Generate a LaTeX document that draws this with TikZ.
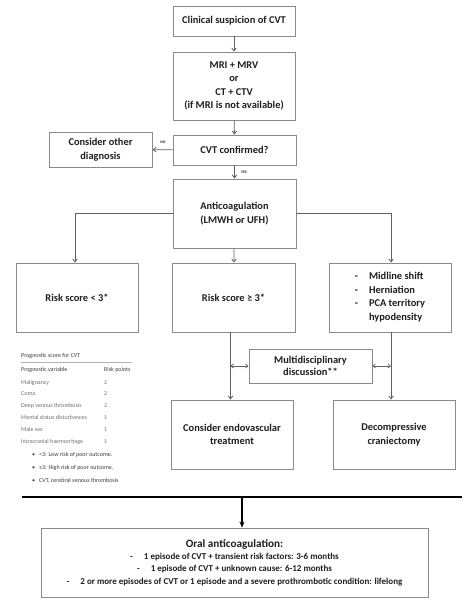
\documentclass[tikz,border=0pt]{standalone}
\usepackage{fontspec}
\setmainfont{Carlito}
\usetikzlibrary{arrows.meta}
\definecolor{boxgray}{HTML}{8A8A8A}
\definecolor{linegray}{HTML}{606060}
\definecolor{txt}{HTML}{1E1E1E}
\definecolor{tabtxt}{HTML}{707070}
\definecolor{tabhead}{HTML}{3A3A3A}
\begin{document}
\begin{tikzpicture}[x=1pt,y=-1pt,
  box/.style={draw=boxgray, line width=0.9pt, align=center, text=txt, inner sep=2pt,
    font=\bfseries\fontsize{10.4}{13.5}\selectfont, minimum width=122pt, minimum height=69pt},
  conn/.style={draw=linegray, line width=0.8pt, -{Straight Barb[length=3pt,width=4.5pt,line width=0.8pt]}},
  both/.style={draw=linegray, line width=0.7pt, {Straight Barb[length=2.5pt,width=4pt]}-{Straight Barb[length=2.5pt,width=4pt]}},
  lab/.style={font=\bfseries\fontsize{3.8}{4}\selectfont, text=txt, inner sep=0pt},
  tab/.style={font=\fontsize{6}{7}\selectfont, text=tabtxt, anchor=base west, inner sep=0pt},
  tabh/.style={tab, text=tabhead}]
\useasboundingbox (0,0) rectangle (474,605);
\fill[white] (0,0) rectangle (474,605);

\node[box, minimum height=30pt] (clin) at (234,21) {Clinical suspicion of CVT};
\node[box, minimum height=68pt] (mri) at (234,86) {MRI + MRV\\or\\CT + CTV\\(if MRI is not available)};
\node[box, minimum width=123pt, minimum height=30pt] (conf) at (234.5,150) {CVT confirmed?};
\node[box, minimum width=103pt, minimum height=35pt] (other) at (100.5,149.5) {Consider other\\diagnosis};
\node[box, minimum width=123pt] (anti) at (234.5,213.5) {Anticoagulation\\(LMWH or UFH)};
\node[box] (r1) at (77,297.5) {Risk score < 3*};
\node[box, minimum width=123pt] (r2) at (233.5,297.5) {Risk score ≥ 3*};
\node[box, align=left] (r3) at (390,297.5) {\begin{tabular}{@{}l@{\hspace{11pt}}l@{}}-&Midline shift\\-&Herniation\\-&PCA territory\\&hypodensity\end{tabular}};
\node[box, minimum width=123pt, minimum height=34pt, font=\bfseries\fontsize{10.4}{12.5}\selectfont] (multi) at (310.5,366) {Multidisciplinary\\discussion**};
\node[box] (endo) at (232,434.5) {Consider endovascular\\treatment};
\node[box] (dec) at (394,434.5) {Decompressive\\craniectomy};
\node[box, minimum width=387pt, font=\bfseries\fontsize{9}{12.3}\selectfont] (oral) at (234.5,562.5)
  {{\fontsize{11.2}{12}\selectfont Oral anticoagulation:}\\
   -\hspace{11pt}1 episode of CVT + transient risk factors: 3-6 months\\
   -\hspace{11pt}1 episode of CVT + unknown cause: 6-12 months\\
   -\hspace{11pt}2 or more episodes of CVT or 1 episode and a severe prothrombotic condition: lifelong};

% connectors
\draw[conn] (clin) -- (mri);
\draw[conn] (mri) -- (conf);
\draw[conn] (conf) -- (other);
\node[lab] (no) at (163,142) {NO};
\draw[conn] (conf) -- (anti);
\node[lab] (yes) at (244,172) {YES};
\coordinate (lx) at (75,0);
\coordinate (rx) at (391,0);
\coordinate (mx) at (230.5,0);
\draw[conn] (anti.west) -| (lx |- r1.north);
\draw[conn] (anti.east) -| (rx |- r3.north);
\draw[conn] (anti) -- (r2);
\draw[conn] (mx |- r2.south) -- (mx |- endo.north);
\draw[conn] (rx |- r3.south) -- (rx |- dec.north);
\draw[both] (mx |- multi.west) -- (multi.west);
\draw[both] (multi.east) -- (rx |- multi.east);

% bottom bar
\coordinate (bl) at (22,497);
\coordinate (br) at (462,497);
\coordinate (bm) at (242,497);
\draw[black, line width=1.3pt] (bl) -- (br);
\draw[black, line width=1.3pt, -{Stealth[length=6pt,width=5pt]}] (bm) -- (bm |- oral.north);

% prognostic score table
\node[tabh] (tt) at (21,357.5) {Prognostic score for CVT};
\draw[draw=gray!60, line width=0.6pt] (21,362) -- (132,362);
\node[tabh] (h1) at (21,371) {Prognostic variable};
\node[tabh] (h2) at (104,371) {Risk points};
\node[tab] (v1) at (21,384) {Malignancy};        \node[tab] (p1) at (104,384) {2};
\node[tab] (v2) at (21,395.5) {Coma};            \node[tab] (p2) at (104,395.5) {2};
\node[tab] (v3) at (21,407.5) {Deep venous thrombosis}; \node[tab] (p3) at (104,407.5) {2};
\node[tab] (v4) at (21,419.5) {Mental status disturbances}; \node[tab] (p4) at (104,419.5) {1};
\node[tab] (v5) at (21,431.5) {Male sex};        \node[tab] (p5) at (104,431.5) {1};
\node[tab] (v6) at (21,443.5) {Intracranial haemorrhage}; \node[tab] (p6) at (104,443.5) {1};
\node[tabh] (b1) at (32,456) {•\hspace{4pt}<3: Low risk of poor outcome.};
\node[tabh] (b2) at (32,469) {•\hspace{4pt}≥3: High risk of poor outcome.};
\node[tabh] (b3) at (32,482) {•\hspace{4pt}CVT, cerebral venous thrombosis};
\end{tikzpicture}
\end{document}
